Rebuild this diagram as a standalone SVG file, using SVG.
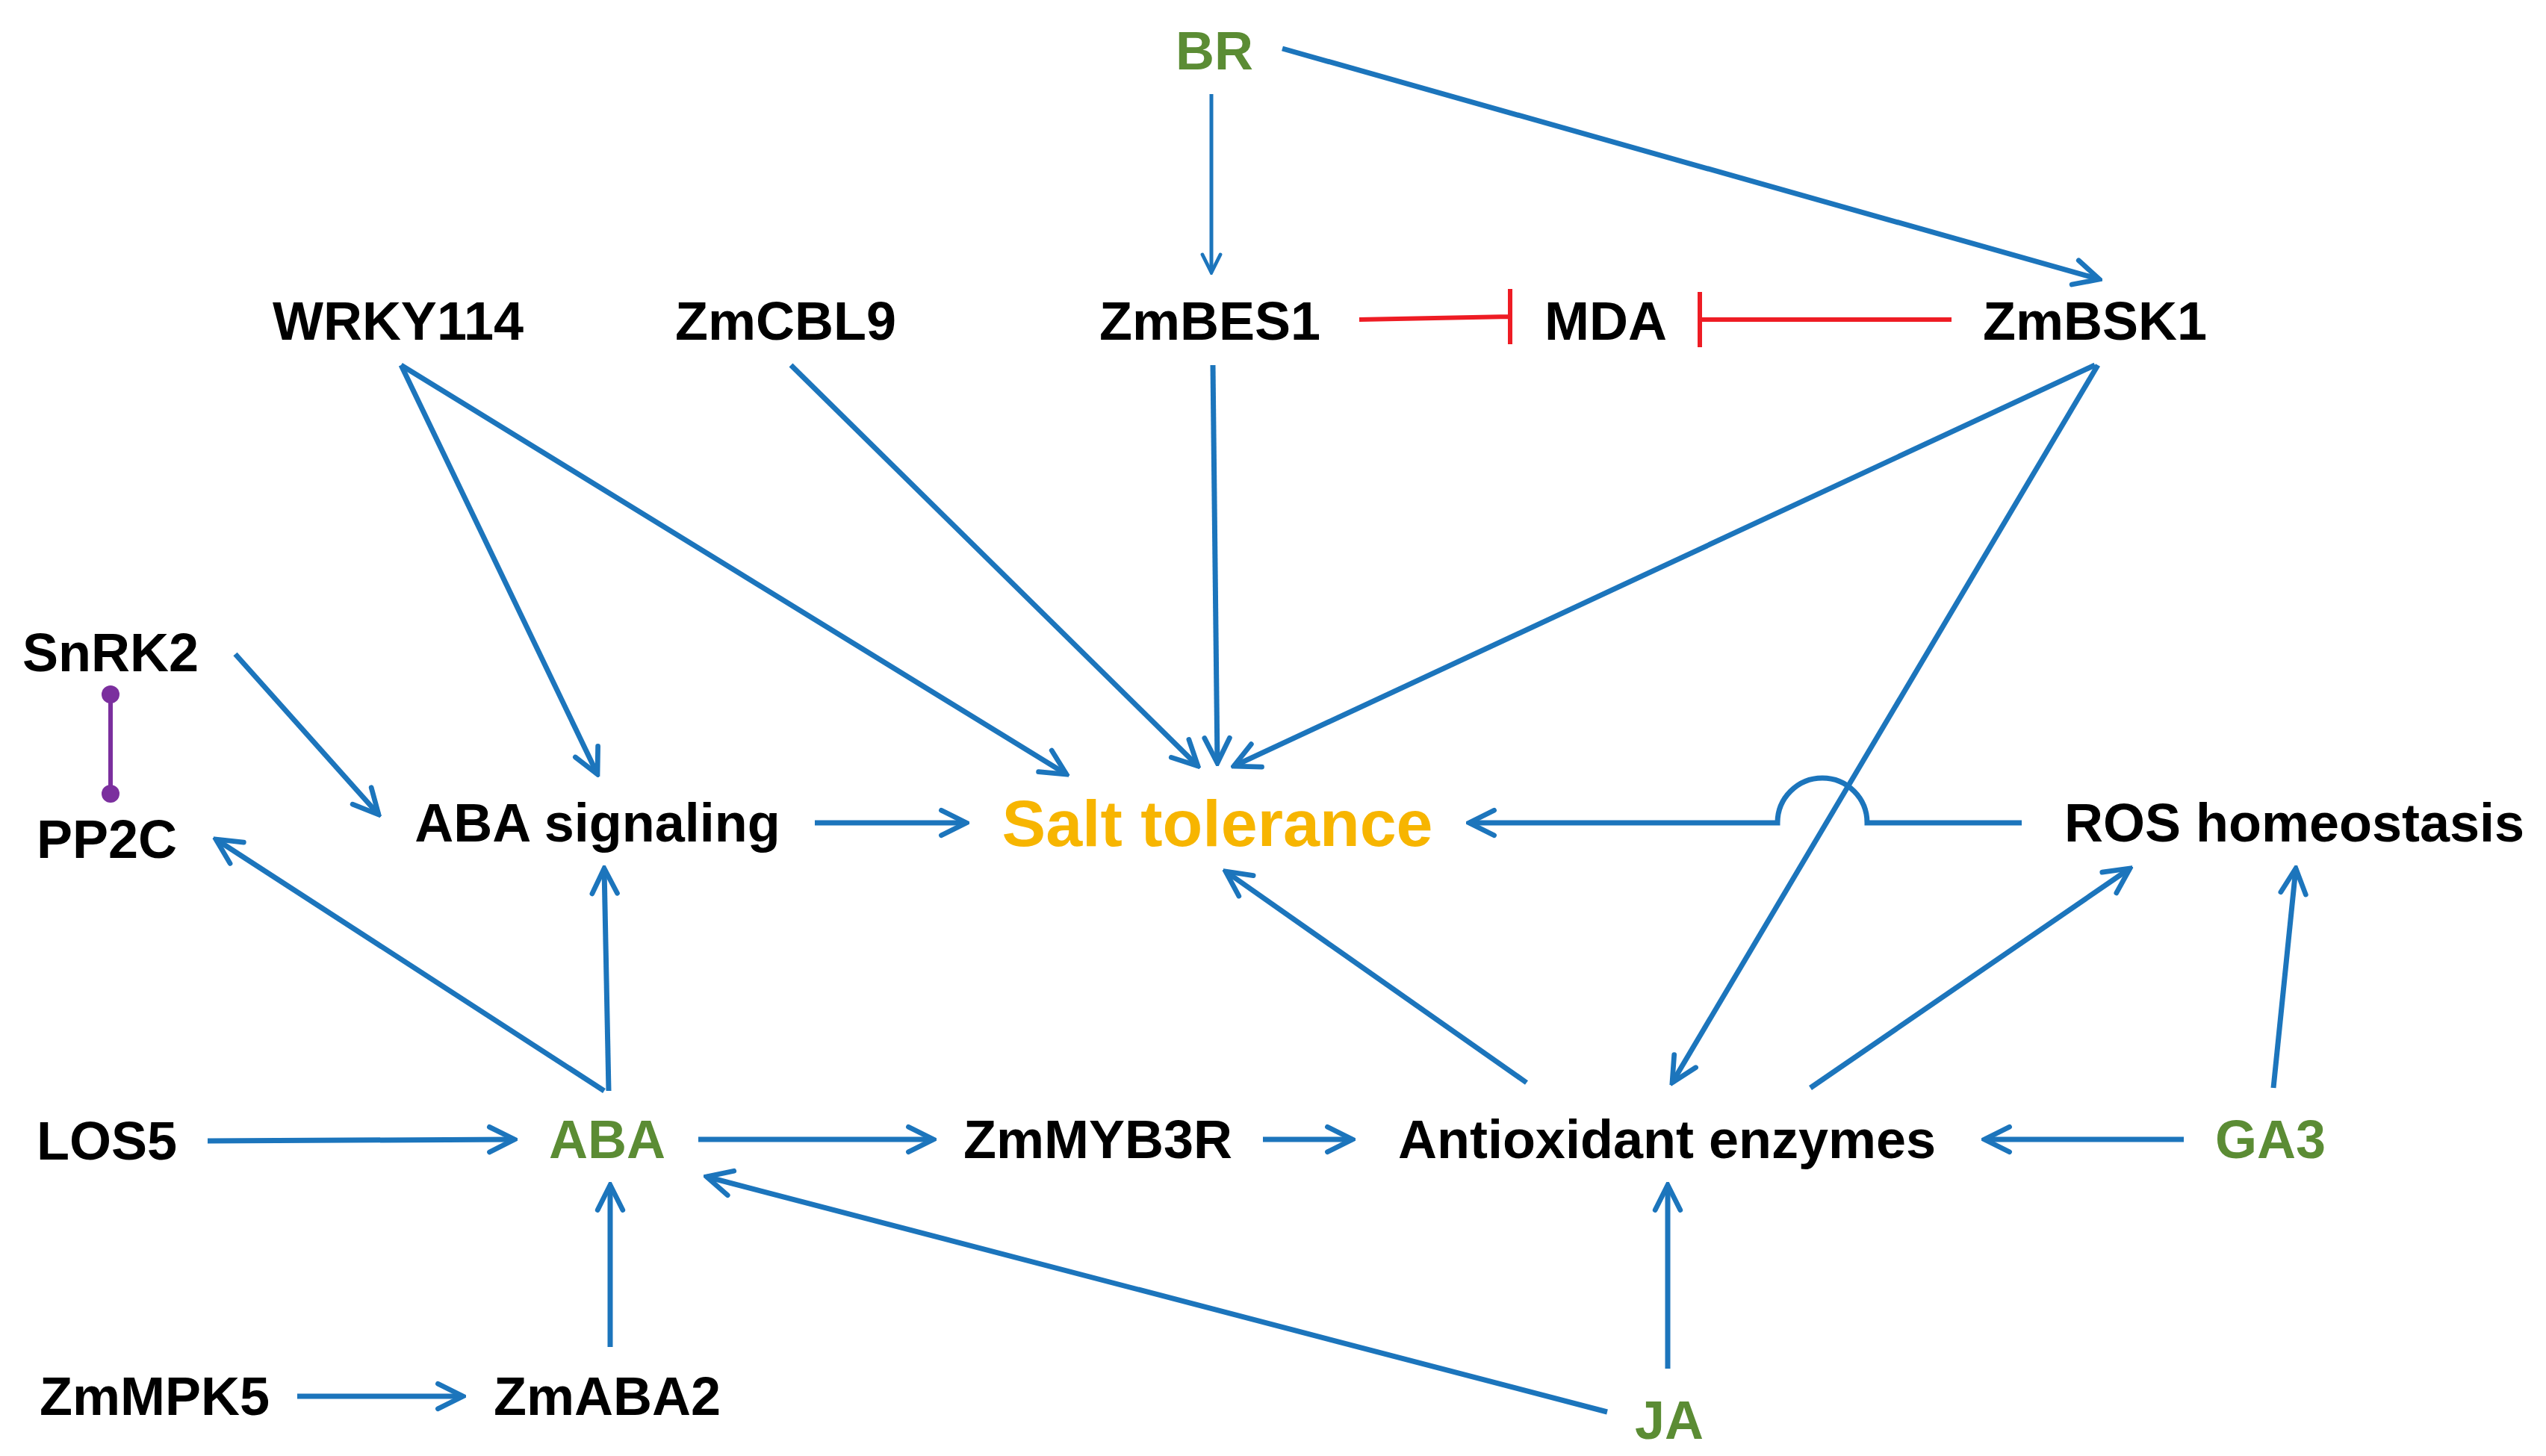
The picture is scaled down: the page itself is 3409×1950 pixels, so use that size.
<svg xmlns="http://www.w3.org/2000/svg" width="3409" height="1950" viewBox="0 0 3409 1950">
<style>
text{font-family:"Liberation Sans",Arial,sans-serif;font-weight:bold;font-size:72px;text-anchor:middle;dominant-baseline:central;fill:#000}
.g{fill:#5b8c34}
.salt{fill:#f7b500;font-size:88px}
.a{stroke:#1c75bc;stroke-width:7;fill:none;marker-end:url(#ah)}
.r{stroke:#ee1c24;stroke-width:6;fill:none}
</style>
<defs>
<marker id="ah" viewBox="0 0 10 10" refX="9" refY="5" markerWidth="6" markerHeight="6" orient="auto">
<path d="M1,1 L9,5 L1,9" fill="none" stroke="#1c75bc" stroke-width="1.6" stroke-linecap="round"/>
</marker>
</defs>
<rect width="3409" height="1950" fill="#fff"/>
<g id="connectors">
<path class="a" style="stroke-width:5" d="M1622,126 L1622,365"/>
<path class="a" d="M1717,65 L2811,374"/>
<path class="r" d="M1820,428 L2022,424 M2022,387 L2022,461"/>
<path class="r" d="M2613,428 L2276,428 M2276,391 L2276,465"/>
<path class="a" d="M537,489 L800,1037"/>
<path class="a" d="M537,489 L1428,1037"/>
<path class="a" d="M1059,489 L1604,1026"/>
<path class="a" d="M1624,489 L1630,1022"/>
<path class="a" d="M2805,489 L1652,1026"/>
<path class="a" d="M2809,489 L2239,1450"/>
<path class="a" d="M315,876 L507,1091"/>
<path d="M148,930 L148,1063" stroke="#7b2f9e" stroke-width="6"/>
<circle cx="148" cy="930" r="12" fill="#7b2f9e"/>
<circle cx="148" cy="1063" r="12" fill="#7b2f9e"/>
<path class="a" d="M1091,1102 L1294,1102"/>
<path class="a" d="M2707,1102 H2500 A60,60 0 0 0 2380,1102 H1967"/>
<path class="a" d="M2044,1450 L1641,1167"/>
<path class="a" d="M2424,1457 L2852,1163"/>
<path class="a" d="M3044,1457 L3074,1163"/>
<path class="a" d="M815,1461 L809,1163"/>
<path class="a" d="M809,1461 L289,1124"/>
<path class="a" d="M278,1528 L689,1526"/>
<path class="a" d="M935,1526 L1250,1526"/>
<path class="a" d="M1691,1526 L1811,1526"/>
<path class="a" d="M2924,1526 L2657,1526"/>
<path class="a" d="M2233,1833 L2233,1587"/>
<path class="a" d="M2152,1891 L946,1576"/>
<path class="a" d="M817,1804 L817,1587"/>
<path class="a" d="M398,1870 L620,1870"/>
</g>
<g id="BR"><text class="g" x="1626" y="68">BR</text></g>
<g id="WRKY114"><text x="533" y="430">WRKY114</text></g>
<g id="ZmCBL9"><text x="1052" y="430">ZmCBL9</text></g>
<g id="ZmBES1"><text x="1620" y="430">ZmBES1</text></g>
<g id="MDA"><text x="2150" y="430">MDA</text></g>
<g id="ZmBSK1"><text x="2805" y="430">ZmBSK1</text></g>
<g id="SnRK2"><text x="148" y="874">SnRK2</text></g>
<g id="PP2C"><text x="143" y="1124">PP2C</text></g>
<g id="ABAsignaling"><text x="800" y="1102">ABA signaling</text></g>
<g id="Salt"><text class="salt" x="1630" y="1102">Salt tolerance</text></g>
<g id="ROS"><text x="3072" y="1102">ROS homeostasis</text></g>
<g id="LOS5"><text x="143" y="1528">LOS5</text></g>
<g id="ABA"><text class="g" x="813" y="1526">ABA</text></g>
<g id="ZmMYB3R"><text x="1470" y="1526">ZmMYB3R</text></g>
<g id="Antioxidant"><text x="2232" y="1526">Antioxidant enzymes</text></g>
<g id="GA3"><text class="g" x="3040" y="1526">GA3</text></g>
<g id="ZmMPK5"><text x="207" y="1870">ZmMPK5</text></g>
<g id="ZmABA2"><text x="813" y="1870">ZmABA2</text></g>
<g id="JA"><text class="g" x="2235" y="1902">JA</text></g>
</svg>
